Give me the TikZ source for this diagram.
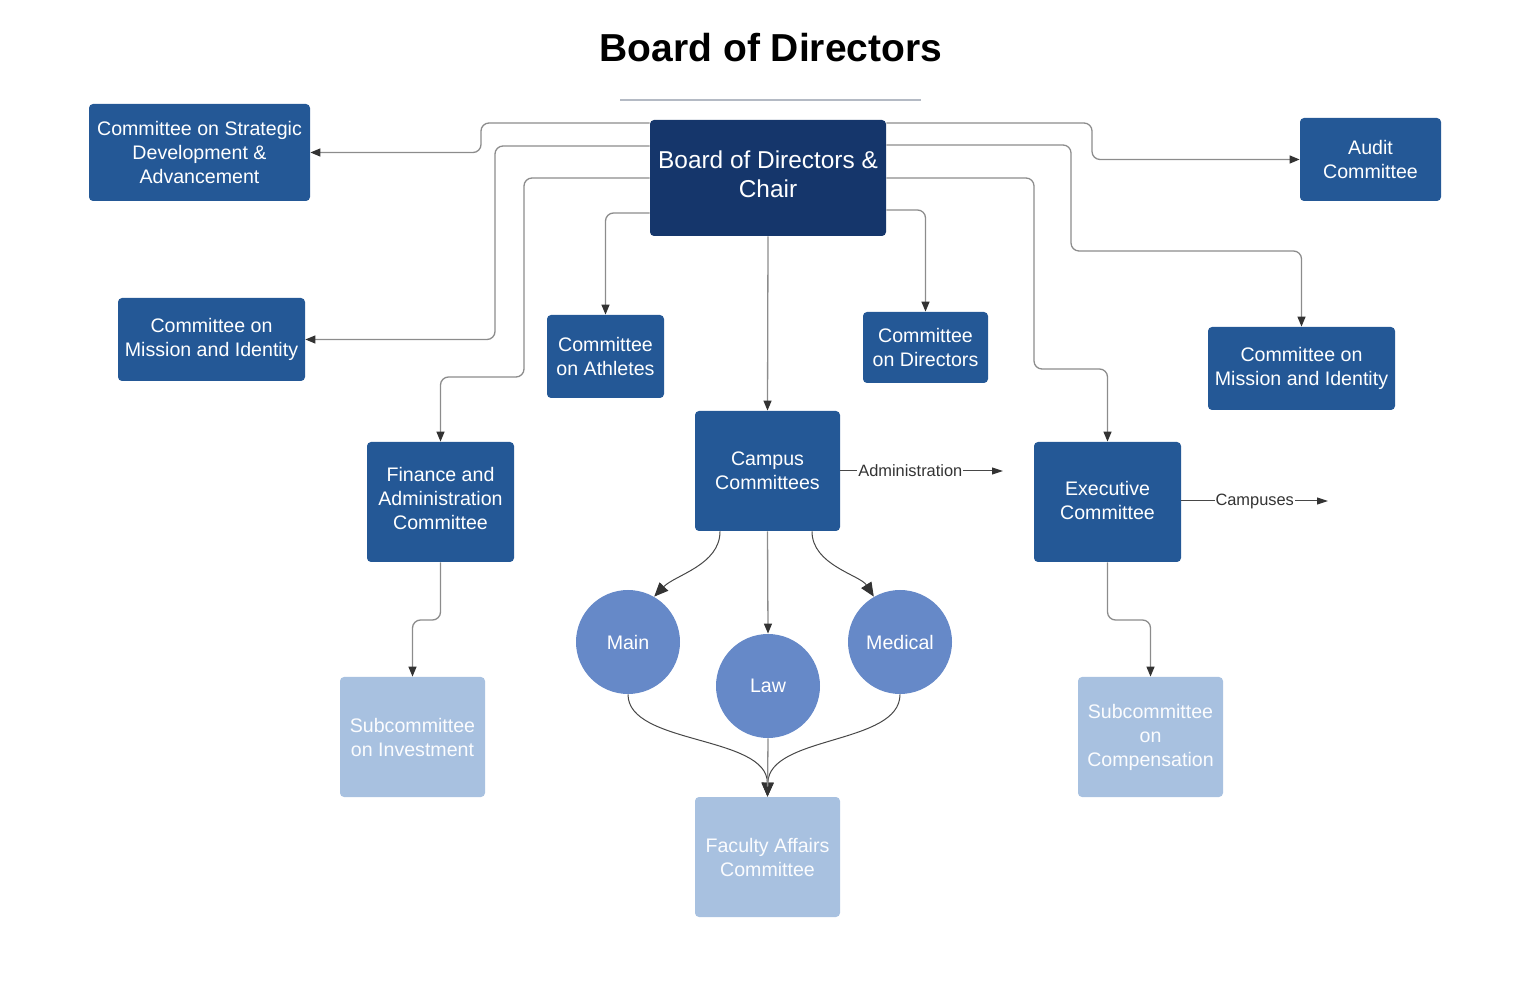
\documentclass[tikz,border=0pt]{standalone}
\usepackage{fontspec}
\setmainfont{Liberation Sans}
\usetikzlibrary{arrows.meta}
\definecolor{boxblue}{HTML}{245896}
\definecolor{darkblue}{HTML}{15366B}
\definecolor{lightblue}{HTML}{A8C1E0}
\definecolor{circblue}{HTML}{6689C8}
\definecolor{linegray}{HTML}{8C8C8C}
\definecolor{tipgray}{HTML}{333333}
\definecolor{rulegray}{HTML}{B4BAC4}
\begin{document}
\begin{tikzpicture}[x=0.5pt,y=-0.5pt,
  box/.style={fill=boxblue, rounded corners=2pt, text=white, align=center,
    font=\fontsize{9.8}{12}\selectfont, inner sep=0pt},
  topbox/.style={box, fill=darkblue},
  boxtext/.style={text=white, align=center, font=\fontsize{9.8}{12}\selectfont, inner sep=0pt},
  toptext/.style={boxtext, font=\fontsize{12.2}{14.5}\selectfont},
  lightbox/.style={box, fill=lightblue, text=white!96!lightblue},
  circ/.style={circle, fill=circblue, text=white, minimum size=52pt, inner sep=0pt,
    font=\fontsize{9.8}{12}\selectfont},
  conn/.style={draw=linegray, line width=0.65pt, rounded corners=4pt,
    -{Triangle[length=5pt,width=4pt,color=tipgray]}},
  curv/.style={draw=tipgray!90, line width=0.5pt,
    -{Triangle[length=7pt,width=6pt,color=tipgray]}},
  lbl/.style={draw=tipgray!90, line width=0.5pt,
    -{Triangle[length=5.5pt,width=3.5pt,color=tipgray]}},
  lbltext/.style={fill=white, inner sep=0.5pt, text=tipgray, font=\fontsize{8.2}{10}\selectfont}
]
\useasboundingbox (0,0) rectangle (1536,1004);

% title
\node[font=\bfseries\fontsize{19.5}{22}\selectfont] (title) at (771,48) {Board of Directors};
\coordinate (ruleL) at (620,100);
\coordinate (ruleR) at (921,100);
\draw[rulegray, line width=0.6pt] (ruleL) -- (ruleR);

% boxes
\node[topbox, minimum width=118pt, minimum height=58pt,
  label={[toptext, yshift=2pt]center:{Board of Directors \&\\Chair}}] (board) at (768,178) {};
\node[box, minimum width=110.5pt, minimum height=48.5pt] (strat) at (199.5,152.5) {Committee on Strategic\\Development \&\\Advancement};
\node[box, minimum width=70.5pt, minimum height=41.5pt] (audit) at (1370.5,159.5) {Audit\\Committee};
\node[box, minimum width=93.5pt, minimum height=41.5pt] (missL) at (211.5,339.5) {Committee on\\Mission and Identity};
\node[box, minimum width=58.5pt, minimum height=41.5pt] (ath) at (605.5,356.5) {Committee\\on Athletes};
\node[box, minimum width=62.5pt, minimum height=35.5pt] (dirs) at (925.5,347.5) {Committee\\on Directors};
\node[box, minimum width=93.5pt, minimum height=41.5pt] (missR) at (1301.5,368.5) {Committee on\\Mission and Identity};
\node[box, minimum width=73.5pt, minimum height=60pt,
  label={[boxtext, yshift=2pt]center:{Finance and\\Administration\\Committee}}] (fin) at (440.5,502) {};
\node[box, minimum width=72.5pt, minimum height=60pt] (campus) at (767.5,471) {Campus\\Committees};
\node[box, minimum width=73.5pt, minimum height=60pt,
  label={[boxtext, yshift=1pt]center:{Executive\\Committee}}] (exec) at (1107.5,502) {};
\node[lightbox, minimum width=72.5pt, minimum height=60pt] (subinv) at (412.5,737) {Subcommittee\\on Investment};
\node[lightbox, minimum width=72.5pt, minimum height=60pt] (faculty) at (767.5,857) {Faculty Affairs\\Committee};
\node[lightbox, minimum width=72.5pt, minimum height=60pt] (subcomp) at (1150.5,737) {Subcommittee\\on\\Compensation};

% circles
\node[circ] (main) at (628,642) {Main};
\node[circ] (law) at (768,686) {Law};
\node[circ] (medical) at (900,642) {Medical};

% connectors from board
\draw[conn] (board.west |- 0,123) -- (481,123) -- (481,152.5) -- (strat.east);
\draw[conn] (board.west |- 0,146) -- (495,146) -- (495,339.5) -- (missL.east);
\draw[conn] (board.west |- 0,178) -- (524,178) -- (524,377) -- (fin.north |- 0,377) -- (fin.north);
\draw[conn] (board.west |- 0,213) -- (ath.north |- 0,213) -- (ath.north);
\draw[conn] (board.south) -- (campus.north);
\draw[conn] (board.east |- 0,210) -- (dirs.north |- 0,210) -- (dirs.north);
\draw[conn] (board.east |- 0,123) -- (1092,123) -- (1092,159.5) -- (audit.west);
\draw[conn] (board.east |- 0,145) -- (1071,145) -- (1071,251) -- (missR.north |- 0,251) -- (missR.north);
\draw[conn] (board.east |- 0,178) -- (1034,178) -- (1034,369) -- (exec.north |- 0,369) -- (exec.north);

% lower connectors
\draw[conn] (fin.south) -- (fin.south |- 0,620) -- (subinv.north |- 0,620) -- (subinv.north);
\draw[conn] (exec.south) -- (exec.south |- 0,620) -- (subcomp.north |- 0,620) -- (subcomp.north);

% labelled arrows
\coordinate (adminend) at (1003,471);
\draw[lbl] (campus.east) -- node[lbltext, pos=0.43] {Administration} (adminend);
\coordinate (campend) at (1328,501);
\draw[lbl] (exec.east |- 0,501) -- node[lbltext, pos=0.5] {Campuses} (campend);

% campus to circles
\draw[curv] (campus.south -| 720,0) .. controls (720,565) and (675,575) .. (main.60);
\draw[curv] (campus.south -| 812,0) .. controls (812,565) and (860,575) .. (medical.120);
\draw[conn] (campus.south) -- (law.north);

% circles to faculty
\draw[curv] (main.south) .. controls (628,745) and (767,735) .. (faculty.north);
\draw[curv] (medical.south) .. controls (900,745) and (769,735) .. (faculty.north);
\draw[conn] (law.south) -- (faculty.north);
\end{tikzpicture}
\end{document}
